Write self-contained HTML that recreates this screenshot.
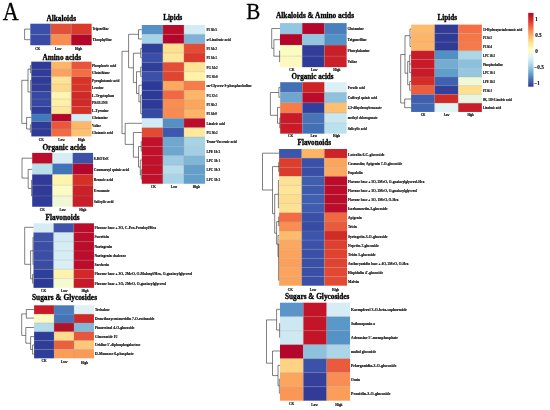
<!DOCTYPE html>
<html lang="en"><head><meta charset="utf-8"><title>Metabolite heatmaps</title>
<style>html,body{margin:0;padding:0;background:#fff}body{width:550px;height:410px;overflow:hidden}svg{display:block}</style>
</head><body>
<svg width="550" height="410" viewBox="0 0 550 410" font-family='&quot;Liberation Serif&quot;, &quot;DejaVu Serif&quot;, serif'>
<rect width="550" height="410" fill="#fff"/>
<defs><linearGradient id="cb" x1="0" y1="0" x2="0" y2="1">
<stop offset="0.0%" stop-color="#b4062a"/>
<stop offset="10.0%" stop-color="#d73027"/>
<stop offset="20.0%" stop-color="#f46d43"/>
<stop offset="30.0%" stop-color="#fdae61"/>
<stop offset="40.0%" stop-color="#fee090"/>
<stop offset="50.0%" stop-color="#ffffbf"/>
<stop offset="60.0%" stop-color="#e0f3f8"/>
<stop offset="70.0%" stop-color="#abd9e9"/>
<stop offset="80.0%" stop-color="#74add1"/>
<stop offset="90.0%" stop-color="#4575b4"/>
<stop offset="100.0%" stop-color="#313695"/>
</linearGradient></defs>
<text transform="translate(2.7 19.8) scale(0.9 1)" font-size="24.5" stroke="#000" stroke-width="0.3">A</text>
<text transform="translate(246.3 19.3) scale(0.92 1)" font-size="22.9" stroke="#000" stroke-width="0.3">B</text>
<g id="A_alk">
<text x="61.20" y="20.60" font-size="7.3" font-weight="bold" stroke="#000" stroke-width="0.3" text-anchor="middle" textLength="29.6" lengthAdjust="spacingAndGlyphs">Alkaloids</text>
<rect x="30.30" y="23.70" width="20.48" height="10.80" fill="#3a4fa8"/>
<rect x="50.73" y="23.70" width="20.48" height="10.80" fill="#e0513a"/>
<rect x="71.17" y="23.70" width="20.48" height="10.80" fill="#d93a2b"/>
<rect x="30.30" y="34.45" width="20.48" height="10.80" fill="#394ba5"/>
<rect x="50.73" y="34.45" width="20.48" height="10.80" fill="#f88d52"/>
<rect x="71.17" y="34.45" width="20.48" height="10.80" fill="#b4062a"/>
<path d="M30.30 34.45H91.60M50.73 23.70V45.20M71.17 23.70V45.20" stroke="#9a9a9a" stroke-width="0.35" fill="none" opacity="0.75"/>
<path d="M30.3 29.1H24.6V39.7H30.3" stroke="#2a2a2a" stroke-width="0.6" fill="none"/>
<text x="92.50" y="30.01" font-size="3.45" font-weight="bold" stroke="#000" stroke-width="0.12" textLength="16.1" lengthAdjust="spacingAndGlyphs">Trigonelline</text>
<text x="92.50" y="40.76" font-size="3.45" font-weight="bold" stroke="#000" stroke-width="0.12" textLength="19.4" lengthAdjust="spacingAndGlyphs">Theophylline</text>
<text x="37.72" y="50.10" font-size="3.40" font-weight="bold" stroke="#000" stroke-width="0.12" text-anchor="middle">CK</text>
<text x="58.15" y="50.10" font-size="3.40" font-weight="bold" stroke="#000" stroke-width="0.12" text-anchor="middle">Low</text>
<text x="78.58" y="50.10" font-size="3.40" font-weight="bold" stroke="#000" stroke-width="0.12" text-anchor="middle">High</text>
</g>
<g id="A_amino">
<text x="61.80" y="60.00" font-size="7.3" font-weight="bold" stroke="#000" stroke-width="0.3" text-anchor="middle" textLength="38.4" lengthAdjust="spacingAndGlyphs">Amino acids</text>
<rect x="31.30" y="61.65" width="20.12" height="7.52" fill="#2f3b96"/>
<rect x="51.37" y="61.65" width="20.12" height="7.52" fill="#fdb56a"/>
<rect x="71.43" y="61.65" width="20.12" height="7.52" fill="#e8553a"/>
<rect x="31.30" y="69.12" width="20.12" height="7.52" fill="#303c97"/>
<rect x="51.37" y="69.12" width="20.12" height="7.52" fill="#fba35e"/>
<rect x="71.43" y="69.12" width="20.12" height="7.52" fill="#f46d43"/>
<rect x="31.30" y="76.60" width="20.12" height="7.52" fill="#2f3b96"/>
<rect x="51.37" y="76.60" width="20.12" height="7.52" fill="#fee496"/>
<rect x="71.43" y="76.60" width="20.12" height="7.52" fill="#d93227"/>
<rect x="31.30" y="84.07" width="20.12" height="7.52" fill="#303c97"/>
<rect x="51.37" y="84.07" width="20.12" height="7.52" fill="#fed98a"/>
<rect x="71.43" y="84.07" width="20.12" height="7.52" fill="#d93227"/>
<rect x="31.30" y="91.55" width="20.12" height="7.52" fill="#3648a2"/>
<rect x="51.37" y="91.55" width="20.12" height="7.52" fill="#fef5b0"/>
<rect x="71.43" y="91.55" width="20.12" height="7.52" fill="#cf2a27"/>
<rect x="31.30" y="99.03" width="20.12" height="7.52" fill="#3648a2"/>
<rect x="51.37" y="99.03" width="20.12" height="7.52" fill="#fff0a8"/>
<rect x="71.43" y="99.03" width="20.12" height="7.52" fill="#cf2a27"/>
<rect x="31.30" y="106.50" width="20.12" height="7.52" fill="#303e99"/>
<rect x="51.37" y="106.50" width="20.12" height="7.52" fill="#fee79b"/>
<rect x="71.43" y="106.50" width="20.12" height="7.52" fill="#d43027"/>
<rect x="31.30" y="113.97" width="20.12" height="7.52" fill="#3f7bbd"/>
<rect x="51.37" y="113.97" width="20.12" height="7.52" fill="#b4062a"/>
<rect x="71.43" y="113.97" width="20.12" height="7.52" fill="#d4ecf4"/>
<rect x="31.30" y="121.45" width="20.12" height="7.52" fill="#2f3b96"/>
<rect x="51.37" y="121.45" width="20.12" height="7.52" fill="#e9573b"/>
<rect x="71.43" y="121.45" width="20.12" height="7.52" fill="#fdb768"/>
<rect x="31.30" y="128.92" width="20.12" height="7.52" fill="#2f3b96"/>
<rect x="51.37" y="128.92" width="20.12" height="7.52" fill="#f16a43"/>
<rect x="71.43" y="128.92" width="20.12" height="7.52" fill="#fdc174"/>
<path d="M31.30 69.12H91.50M31.30 76.60H91.50M31.30 84.07H91.50M31.30 91.55H91.50M31.30 99.03H91.50M31.30 106.50H91.50M31.30 113.97H91.50M31.30 121.45H91.50M31.30 128.92H91.50M51.37 61.65V136.40M71.43 61.65V136.40" stroke="#9a9a9a" stroke-width="0.35" fill="none" opacity="0.75"/>
<path d="M31.3 65.4H30.4V72.8H31.3M30.4 69.1H28V92H30.6M31.3 80.2H30.6V110H31.3M28 80.3H21.8V123.4H26.6M31.3 117.4H26.6V129H30.4M31.3 124.8H30.4V132.2H31.3" stroke="#2a2a2a" stroke-width="0.6" fill="none"/>
<text x="92.10" y="66.73" font-size="3.45" font-weight="bold" stroke="#000" stroke-width="0.12" textLength="24.2" lengthAdjust="spacingAndGlyphs">Phosphoric acid</text>
<text x="92.10" y="74.20" font-size="3.45" font-weight="bold" stroke="#000" stroke-width="0.12" textLength="17.6" lengthAdjust="spacingAndGlyphs">Glutathione</text>
<text x="92.10" y="81.68" font-size="3.45" font-weight="bold" stroke="#000" stroke-width="0.12" textLength="27.4" lengthAdjust="spacingAndGlyphs">Pyroglutamic acid</text>
<text x="92.10" y="89.15" font-size="3.45" font-weight="bold" stroke="#000" stroke-width="0.12" textLength="11.5" lengthAdjust="spacingAndGlyphs">Leucine</text>
<text x="92.10" y="96.63" font-size="3.45" font-weight="bold" stroke="#000" stroke-width="0.12" textLength="21.9" lengthAdjust="spacingAndGlyphs">L-Tryptophan</text>
<text x="92.10" y="104.10" font-size="3.45" font-weight="bold" stroke="#000" stroke-width="0.12" textLength="15.6" lengthAdjust="spacingAndGlyphs">PROLINE</text>
<text x="92.10" y="111.58" font-size="3.45" font-weight="bold" stroke="#000" stroke-width="0.12" textLength="16.5" lengthAdjust="spacingAndGlyphs">L-Tyrosine</text>
<text x="92.10" y="119.05" font-size="3.45" font-weight="bold" stroke="#000" stroke-width="0.12" textLength="15.7" lengthAdjust="spacingAndGlyphs">Glutamine</text>
<text x="92.10" y="126.53" font-size="3.45" font-weight="bold" stroke="#000" stroke-width="0.12" textLength="8.8" lengthAdjust="spacingAndGlyphs">Valine</text>
<text x="92.10" y="134.00" font-size="3.45" font-weight="bold" stroke="#000" stroke-width="0.12" textLength="20.9" lengthAdjust="spacingAndGlyphs">Glutamic acid</text>
<text x="41.33" y="140.50" font-size="3.40" font-weight="bold" stroke="#000" stroke-width="0.12" text-anchor="middle">CK</text>
<text x="61.40" y="140.50" font-size="3.40" font-weight="bold" stroke="#000" stroke-width="0.12" text-anchor="middle">Low</text>
<text x="81.47" y="140.50" font-size="3.40" font-weight="bold" stroke="#000" stroke-width="0.12" text-anchor="middle">High</text>
</g>
<g id="A_org">
<text x="64.20" y="149.80" font-size="7.3" font-weight="bold" stroke="#000" stroke-width="0.3" text-anchor="middle" textLength="43.6" lengthAdjust="spacingAndGlyphs">Organic acids</text>
<rect x="32.20" y="152.90" width="20.32" height="10.81" fill="#bc0c2b"/>
<rect x="52.47" y="152.90" width="20.32" height="10.81" fill="#d6edf5"/>
<rect x="72.73" y="152.90" width="20.32" height="10.81" fill="#3e51a8"/>
<rect x="32.20" y="163.66" width="20.32" height="10.81" fill="#b9dfec"/>
<rect x="52.47" y="163.66" width="20.32" height="10.81" fill="#3f74ba"/>
<rect x="72.73" y="163.66" width="20.32" height="10.81" fill="#b4062a"/>
<rect x="32.20" y="174.42" width="20.32" height="10.81" fill="#2f3b96"/>
<rect x="52.47" y="174.42" width="20.32" height="10.81" fill="#fef4ae"/>
<rect x="72.73" y="174.42" width="20.32" height="10.81" fill="#d62f27"/>
<rect x="32.20" y="185.18" width="20.32" height="10.81" fill="#2f3b96"/>
<rect x="52.47" y="185.18" width="20.32" height="10.81" fill="#fbfbc5"/>
<rect x="72.73" y="185.18" width="20.32" height="10.81" fill="#c92029"/>
<rect x="32.20" y="195.94" width="20.32" height="10.81" fill="#2f3b96"/>
<rect x="52.47" y="195.94" width="20.32" height="10.81" fill="#f0f7d5"/>
<rect x="72.73" y="195.94" width="20.32" height="10.81" fill="#c81e29"/>
<path d="M32.20 163.66H93.00M32.20 174.42H93.00M32.20 185.18H93.00M32.20 195.94H93.00M52.47 152.90V206.70M72.73 152.90V206.70" stroke="#9a9a9a" stroke-width="0.35" fill="none" opacity="0.75"/>
<path d="M32.2 158.2H22V178.1H28.2M32.2 169.4H28.2V188.4H31.6M32.2 180H31.6V196H32.2" stroke="#2a2a2a" stroke-width="0.6" fill="none"/>
<text x="93.80" y="159.92" font-size="3.45" font-weight="bold" stroke="#000" stroke-width="0.12" textLength="14.8" lengthAdjust="spacingAndGlyphs">9-HOTrE</text>
<text x="93.80" y="170.68" font-size="3.45" font-weight="bold" stroke="#000" stroke-width="0.12" textLength="35.1" lengthAdjust="spacingAndGlyphs">Coumaroyl quinic acid</text>
<text x="93.80" y="181.44" font-size="3.45" font-weight="bold" stroke="#000" stroke-width="0.12" textLength="19.2" lengthAdjust="spacingAndGlyphs">Benzoic acid</text>
<text x="93.80" y="192.20" font-size="3.45" font-weight="bold" stroke="#000" stroke-width="0.12" textLength="15.9" lengthAdjust="spacingAndGlyphs">Urocanate</text>
<text x="93.80" y="202.96" font-size="3.45" font-weight="bold" stroke="#000" stroke-width="0.12" textLength="19.8" lengthAdjust="spacingAndGlyphs">Salicylic acid</text>
<text x="42.33" y="210.90" font-size="3.40" font-weight="bold" stroke="#000" stroke-width="0.12" text-anchor="middle">CK</text>
<text x="62.60" y="210.90" font-size="3.40" font-weight="bold" stroke="#000" stroke-width="0.12" text-anchor="middle">Low</text>
<text x="82.87" y="210.90" font-size="3.40" font-weight="bold" stroke="#000" stroke-width="0.12" text-anchor="middle">High</text>
</g>
<g id="A_flav">
<text x="62.60" y="220.00" font-size="7.3" font-weight="bold" stroke="#000" stroke-width="0.3" text-anchor="middle" textLength="34.0" lengthAdjust="spacingAndGlyphs">Flavonoids</text>
<rect x="33.50" y="223.30" width="20.18" height="9.26" fill="#d5ecf4"/>
<rect x="53.63" y="223.30" width="20.18" height="9.26" fill="#3e54aa"/>
<rect x="73.77" y="223.30" width="20.18" height="9.26" fill="#bc0c2b"/>
<rect x="33.50" y="232.51" width="20.18" height="9.26" fill="#3d52a9"/>
<rect x="53.63" y="232.51" width="20.18" height="9.26" fill="#d2eaf3"/>
<rect x="73.77" y="232.51" width="20.18" height="9.26" fill="#bc0c2b"/>
<rect x="33.50" y="241.72" width="20.18" height="9.26" fill="#3a4ea6"/>
<rect x="53.63" y="241.72" width="20.18" height="9.26" fill="#d6edf5"/>
<rect x="73.77" y="241.72" width="20.18" height="9.26" fill="#bc0c2b"/>
<rect x="33.50" y="250.93" width="20.18" height="9.26" fill="#3a4ea6"/>
<rect x="53.63" y="250.93" width="20.18" height="9.26" fill="#d6edf5"/>
<rect x="73.77" y="250.93" width="20.18" height="9.26" fill="#bc0c2b"/>
<rect x="33.50" y="260.14" width="20.18" height="9.26" fill="#394ca4"/>
<rect x="53.63" y="260.14" width="20.18" height="9.26" fill="#d9eef5"/>
<rect x="73.77" y="260.14" width="20.18" height="9.26" fill="#bc0c2b"/>
<rect x="33.50" y="269.35" width="20.18" height="9.26" fill="#2e3f9a"/>
<rect x="53.63" y="269.35" width="20.18" height="9.26" fill="#fef3ad"/>
<rect x="73.77" y="269.35" width="20.18" height="9.26" fill="#d4272a"/>
<rect x="33.50" y="278.56" width="20.18" height="9.26" fill="#2c3a96"/>
<rect x="53.63" y="278.56" width="20.18" height="9.26" fill="#f5fad0"/>
<rect x="73.77" y="278.56" width="20.18" height="9.26" fill="#c41a2a"/>
<path d="M33.50 232.51H93.90M33.50 241.72H93.90M33.50 250.93H93.90M33.50 260.14H93.90M33.50 269.35H93.90M33.50 278.56H93.90M53.63 223.30V287.77M73.77 223.30V287.77" stroke="#9a9a9a" stroke-width="0.35" fill="none" opacity="0.75"/>
<path d="M33.5 227.3H24.7V264.3H30.6M33.5 250.75H30.6V278.8H32.6M33.5 274.4H32.6V283.2H33.5M33.5 237H33V264.7H33.5" stroke="#2a2a2a" stroke-width="0.6" fill="none"/>
<text x="94.50" y="229.24" font-size="3.45" font-weight="bold" stroke="#000" stroke-width="0.12" textLength="61.5" lengthAdjust="spacingAndGlyphs">Flavone base + 3O, C-Pen-Feruloyl/Hex</text>
<text x="94.50" y="238.45" font-size="3.45" font-weight="bold" stroke="#000" stroke-width="0.12" textLength="14.5" lengthAdjust="spacingAndGlyphs">Swertisin</text>
<text x="94.50" y="247.66" font-size="3.45" font-weight="bold" stroke="#000" stroke-width="0.12" textLength="17.5" lengthAdjust="spacingAndGlyphs">Naringenin</text>
<text x="94.50" y="256.87" font-size="3.45" font-weight="bold" stroke="#000" stroke-width="0.12" textLength="31.5" lengthAdjust="spacingAndGlyphs">Naringenin chalcone</text>
<text x="94.50" y="266.08" font-size="3.45" font-weight="bold" stroke="#000" stroke-width="0.12" textLength="14.5" lengthAdjust="spacingAndGlyphs">Sarchesin</text>
<text x="94.50" y="275.29" font-size="3.45" font-weight="bold" stroke="#000" stroke-width="0.12" textLength="97.5" lengthAdjust="spacingAndGlyphs">Flavone base + 3O, 2MeO, O-Malonyl/Hex, O-guaiacylglycerol</text>
<text x="94.50" y="284.50" font-size="3.45" font-weight="bold" stroke="#000" stroke-width="0.12" textLength="71.5" lengthAdjust="spacingAndGlyphs">Flavone base + 3O, 2MeO, O-guaiacylglycerol</text>
<text x="43.57" y="291.90" font-size="3.40" font-weight="bold" stroke="#000" stroke-width="0.12" text-anchor="middle">CK</text>
<text x="64.30" y="291.90" font-size="3.40" font-weight="bold" stroke="#000" stroke-width="0.12" text-anchor="middle">Low</text>
<text x="85.03" y="291.90" font-size="3.40" font-weight="bold" stroke="#000" stroke-width="0.12" text-anchor="middle">High</text>
</g>
<g id="A_sug">
<text x="64.50" y="300.20" font-size="7.3" font-weight="bold" stroke="#000" stroke-width="0.3" text-anchor="middle" textLength="65.0" lengthAdjust="spacingAndGlyphs">Sugars &amp; Glycosides</text>
<rect x="34.10" y="305.30" width="19.98" height="8.88" fill="#c81a29"/>
<rect x="54.03" y="305.30" width="19.98" height="8.88" fill="#4a7bbb"/>
<rect x="73.97" y="305.30" width="19.98" height="8.88" fill="#dff1f6"/>
<rect x="34.10" y="314.13" width="19.98" height="8.88" fill="#fcf8c0"/>
<rect x="54.03" y="314.13" width="19.98" height="8.88" fill="#4573b7"/>
<rect x="73.97" y="314.13" width="19.98" height="8.88" fill="#d0292a"/>
<rect x="34.10" y="322.96" width="19.98" height="8.88" fill="#b4dbeb"/>
<rect x="54.03" y="322.96" width="19.98" height="8.88" fill="#b2132a"/>
<rect x="73.97" y="322.96" width="19.98" height="8.88" fill="#83b7d8"/>
<rect x="34.10" y="331.79" width="19.98" height="8.88" fill="#2e3d98"/>
<rect x="54.03" y="331.79" width="19.98" height="8.88" fill="#fedc8c"/>
<rect x="73.97" y="331.79" width="19.98" height="8.88" fill="#e8573b"/>
<rect x="34.10" y="340.62" width="19.98" height="8.88" fill="#2e3d98"/>
<rect x="54.03" y="340.62" width="19.98" height="8.88" fill="#ec5f3f"/>
<rect x="73.97" y="340.62" width="19.98" height="8.88" fill="#fdc778"/>
<rect x="34.10" y="349.45" width="19.98" height="8.88" fill="#2e3d98"/>
<rect x="54.03" y="349.45" width="19.98" height="8.88" fill="#fb9d59"/>
<rect x="73.97" y="349.45" width="19.98" height="8.88" fill="#fa9a58"/>
<path d="M34.10 314.13H93.90M34.10 322.96H93.90M34.10 331.79H93.90M34.10 340.62H93.90M34.10 349.45H93.90M54.03 305.30V358.28M73.97 305.30V358.28" stroke="#9a9a9a" stroke-width="0.35" fill="none" opacity="0.75"/>
<path d="M34.1 309.5H26.3V318.1H34.1M26.3 313.9H21.7V335.4H25.8M34.1 327.5H25.8V343.2H30.6M34.1 336.6H30.6V349.5H32.6M34.1 345H32.6V354.1H34.1" stroke="#2a2a2a" stroke-width="0.6" fill="none"/>
<text x="95.00" y="311.05" font-size="3.45" font-weight="bold" stroke="#000" stroke-width="0.12" textLength="14.6" lengthAdjust="spacingAndGlyphs">Trehalose</text>
<text x="95.00" y="319.88" font-size="3.45" font-weight="bold" stroke="#000" stroke-width="0.12" textLength="59.4" lengthAdjust="spacingAndGlyphs">Demethoxycentaureidin 7-O-rutinoside</text>
<text x="95.00" y="328.71" font-size="3.45" font-weight="bold" stroke="#000" stroke-width="0.12" textLength="39.4" lengthAdjust="spacingAndGlyphs">Pinoresinol 4-O-glucoside</text>
<text x="95.00" y="337.54" font-size="3.45" font-weight="bold" stroke="#000" stroke-width="0.12" textLength="22.6" lengthAdjust="spacingAndGlyphs">Ginsenoside F2</text>
<text x="95.00" y="346.37" font-size="3.45" font-weight="bold" stroke="#000" stroke-width="0.12" textLength="45.4" lengthAdjust="spacingAndGlyphs">Uridine 5'-diphosphogalactose</text>
<text x="95.00" y="355.20" font-size="3.45" font-weight="bold" stroke="#000" stroke-width="0.12" textLength="38.6" lengthAdjust="spacingAndGlyphs">D-Mannose 6-phosphate</text>
<text x="44.07" y="362.20" font-size="3.40" font-weight="bold" stroke="#000" stroke-width="0.12" text-anchor="middle">CK</text>
<text x="64.30" y="362.90" font-size="3.40" font-weight="bold" stroke="#000" stroke-width="0.12" text-anchor="middle">Low</text>
<text x="84.53" y="363.60" font-size="3.40" font-weight="bold" stroke="#000" stroke-width="0.12" text-anchor="middle">High</text>
</g>
<g id="A_lip">
<text x="172.80" y="20.00" font-size="7.3" font-weight="bold" stroke="#000" stroke-width="0.3" text-anchor="middle" textLength="19.1" lengthAdjust="spacingAndGlyphs">Lipids</text>
<rect x="141.80" y="25.00" width="21.12" height="9.39" fill="#5591c6"/>
<rect x="162.87" y="25.00" width="21.12" height="9.39" fill="#bc0c2b"/>
<rect x="183.93" y="25.00" width="21.12" height="9.39" fill="#d3ebf4"/>
<rect x="141.80" y="34.34" width="21.12" height="9.39" fill="#a6d3e7"/>
<rect x="162.87" y="34.34" width="21.12" height="9.39" fill="#b4062a"/>
<rect x="183.93" y="34.34" width="21.12" height="9.39" fill="#7fb3d6"/>
<rect x="141.80" y="43.67" width="21.12" height="9.39" fill="#30409a"/>
<rect x="162.87" y="43.67" width="21.12" height="9.39" fill="#fee090"/>
<rect x="183.93" y="43.67" width="21.12" height="9.39" fill="#e34c35"/>
<rect x="141.80" y="53.01" width="21.12" height="9.39" fill="#3a4ea6"/>
<rect x="162.87" y="53.01" width="21.12" height="9.39" fill="#fee79b"/>
<rect x="183.93" y="53.01" width="21.12" height="9.39" fill="#dc3b2c"/>
<rect x="141.80" y="62.34" width="21.12" height="9.39" fill="#2f3f99"/>
<rect x="162.87" y="62.34" width="21.12" height="9.39" fill="#e44e36"/>
<rect x="183.93" y="62.34" width="21.12" height="9.39" fill="#fee395"/>
<rect x="141.80" y="71.68" width="21.12" height="9.39" fill="#3b50a7"/>
<rect x="162.87" y="71.68" width="21.12" height="9.39" fill="#e04530"/>
<rect x="183.93" y="71.68" width="21.12" height="9.39" fill="#fff2ab"/>
<rect x="141.80" y="81.01" width="21.12" height="9.39" fill="#2d3a97"/>
<rect x="162.87" y="81.01" width="21.12" height="9.39" fill="#fca85f"/>
<rect x="183.93" y="81.01" width="21.12" height="9.39" fill="#f67d4a"/>
<rect x="141.80" y="90.34" width="21.12" height="9.39" fill="#2d3a97"/>
<rect x="162.87" y="90.34" width="21.12" height="9.39" fill="#f26941"/>
<rect x="183.93" y="90.34" width="21.12" height="9.39" fill="#fdb567"/>
<rect x="141.80" y="99.68" width="21.12" height="9.39" fill="#2d3a97"/>
<rect x="162.87" y="99.68" width="21.12" height="9.39" fill="#f98e52"/>
<rect x="183.93" y="99.68" width="21.12" height="9.39" fill="#fca55d"/>
<rect x="141.80" y="109.02" width="21.12" height="9.39" fill="#354aa3"/>
<rect x="162.87" y="109.02" width="21.12" height="9.39" fill="#f88b51"/>
<rect x="183.93" y="109.02" width="21.12" height="9.39" fill="#fdb466"/>
<rect x="141.80" y="118.35" width="21.12" height="9.39" fill="#d3ebf4"/>
<rect x="162.87" y="118.35" width="21.12" height="9.39" fill="#5490c5"/>
<rect x="183.93" y="118.35" width="21.12" height="9.39" fill="#bc0c2b"/>
<rect x="141.80" y="127.69" width="21.12" height="9.39" fill="#e24a34"/>
<rect x="162.87" y="127.69" width="21.12" height="9.39" fill="#3d58ac"/>
<rect x="183.93" y="127.69" width="21.12" height="9.39" fill="#fee99d"/>
<rect x="141.80" y="137.02" width="21.12" height="9.39" fill="#c0102a"/>
<rect x="162.87" y="137.02" width="21.12" height="9.39" fill="#6fa8cf"/>
<rect x="183.93" y="137.02" width="21.12" height="9.39" fill="#a8d3e7"/>
<rect x="141.80" y="146.36" width="21.12" height="9.39" fill="#c0102a"/>
<rect x="162.87" y="146.36" width="21.12" height="9.39" fill="#6da7cf"/>
<rect x="183.93" y="146.36" width="21.12" height="9.39" fill="#a3cfe5"/>
<rect x="141.80" y="155.69" width="21.12" height="9.39" fill="#c0102a"/>
<rect x="162.87" y="155.69" width="21.12" height="9.39" fill="#9dcae2"/>
<rect x="183.93" y="155.69" width="21.12" height="9.39" fill="#82b6d7"/>
<rect x="141.80" y="165.03" width="21.12" height="9.39" fill="#c0102a"/>
<rect x="162.87" y="165.03" width="21.12" height="9.39" fill="#b7dcea"/>
<rect x="183.93" y="165.03" width="21.12" height="9.39" fill="#649fca"/>
<rect x="141.80" y="174.36" width="21.12" height="9.39" fill="#c0102a"/>
<rect x="162.87" y="174.36" width="21.12" height="9.39" fill="#a9d4e7"/>
<rect x="183.93" y="174.36" width="21.12" height="9.39" fill="#62a0cb"/>
<path d="M141.80 34.34H205.00M141.80 43.67H205.00M141.80 53.01H205.00M141.80 62.34H205.00M141.80 71.68H205.00M141.80 81.01H205.00M141.80 90.34H205.00M141.80 99.68H205.00M141.80 109.02H205.00M141.80 118.35H205.00M141.80 127.69H205.00M141.80 137.02H205.00M141.80 146.36H205.00M141.80 155.69H205.00M141.80 165.03H205.00M141.80 174.36H205.00M162.87 25.00V183.70M183.93 25.00V183.70" stroke="#9a9a9a" stroke-width="0.35" fill="none" opacity="0.75"/>
<path d="M141.8 29.7H138.5V39H141.8M138.5 34.3H128.6V67.8H133.4M128.6 51.3H122V133.6H125.2M141.8 48.4H140.7V57.7H141.8M140.7 53.2H133.4V82.6H136.5M141.8 67H140.7V76.4H141.8M140.7 71.7H136.5V93.5H138.9M141.8 85.2H138.9V101.9H140.7M141.8 95H140.7V113.7H141.8M141.8 123.3H125.2V144.4H133.4M141.8 132.5H133.4V157.2H138.5M141.3 146.6H138.5V167.1H140.3M141.8 141.7H141.2V151.1H141.8M141.8 160H140.3V174.8H141.2M141.8 169.8H141.2V179.1H141.8" stroke="#2a2a2a" stroke-width="0.6" fill="none"/>
<text x="206.40" y="31.46" font-size="3.30" font-weight="bold" stroke="#000" stroke-width="0.12" textLength="10.5" lengthAdjust="spacingAndGlyphs">PI 36:5</text>
<text x="206.40" y="40.79" font-size="3.30" font-weight="bold" stroke="#000" stroke-width="0.12" textLength="24.4" lengthAdjust="spacingAndGlyphs">α-Linolenic acid</text>
<text x="206.40" y="50.13" font-size="3.30" font-weight="bold" stroke="#000" stroke-width="0.12" textLength="10.5" lengthAdjust="spacingAndGlyphs">PI 34:2</text>
<text x="206.40" y="59.46" font-size="3.30" font-weight="bold" stroke="#000" stroke-width="0.12" textLength="10.5" lengthAdjust="spacingAndGlyphs">PI 34:1</text>
<text x="206.40" y="68.80" font-size="3.30" font-weight="bold" stroke="#000" stroke-width="0.12" textLength="11.3" lengthAdjust="spacingAndGlyphs">PG 34:2</text>
<text x="206.40" y="78.13" font-size="3.30" font-weight="bold" stroke="#000" stroke-width="0.12" textLength="11.3" lengthAdjust="spacingAndGlyphs">PG 38:0</text>
<text x="206.40" y="87.47" font-size="3.30" font-weight="bold" stroke="#000" stroke-width="0.12" textLength="45.3" lengthAdjust="spacingAndGlyphs">sn-Glycero-3-phosphocholine</text>
<text x="206.40" y="96.80" font-size="3.30" font-weight="bold" stroke="#000" stroke-width="0.12" textLength="11.3" lengthAdjust="spacingAndGlyphs">PG 32:1</text>
<text x="206.40" y="106.14" font-size="3.30" font-weight="bold" stroke="#000" stroke-width="0.12" textLength="10.5" lengthAdjust="spacingAndGlyphs">PI 36:2</text>
<text x="206.40" y="115.47" font-size="3.30" font-weight="bold" stroke="#000" stroke-width="0.12" textLength="10.5" lengthAdjust="spacingAndGlyphs">PI 34:0</text>
<text x="206.40" y="124.81" font-size="3.30" font-weight="bold" stroke="#000" stroke-width="0.12" textLength="18.6" lengthAdjust="spacingAndGlyphs">Linoleic acid</text>
<text x="206.40" y="134.14" font-size="3.30" font-weight="bold" stroke="#000" stroke-width="0.12" textLength="11.3" lengthAdjust="spacingAndGlyphs">PG 36:2</text>
<text x="206.40" y="143.48" font-size="3.30" font-weight="bold" stroke="#000" stroke-width="0.12" textLength="30.3" lengthAdjust="spacingAndGlyphs">Trans-Vaccenic acid</text>
<text x="206.40" y="152.81" font-size="3.30" font-weight="bold" stroke="#000" stroke-width="0.12" textLength="13.7" lengthAdjust="spacingAndGlyphs">LPE 18:2</text>
<text x="206.40" y="162.15" font-size="3.30" font-weight="bold" stroke="#000" stroke-width="0.12" textLength="13.7" lengthAdjust="spacingAndGlyphs">LPC 18:1</text>
<text x="206.40" y="171.48" font-size="3.30" font-weight="bold" stroke="#000" stroke-width="0.12" textLength="13.7" lengthAdjust="spacingAndGlyphs">LPC 18:3</text>
<text x="206.40" y="180.82" font-size="3.30" font-weight="bold" stroke="#000" stroke-width="0.12" textLength="13.7" lengthAdjust="spacingAndGlyphs">LPC 18:2</text>
<text x="153.43" y="187.70" font-size="3.40" font-weight="bold" stroke="#000" stroke-width="0.12" text-anchor="middle">CK</text>
<text x="174.00" y="187.70" font-size="3.40" font-weight="bold" stroke="#000" stroke-width="0.12" text-anchor="middle">Low</text>
<text x="196.27" y="187.70" font-size="3.40" font-weight="bold" stroke="#000" stroke-width="0.12" text-anchor="middle">High</text>
</g>
<g id="B_alk">
<text x="315.00" y="18.00" font-size="7.3" font-weight="bold" stroke="#000" stroke-width="0.3" text-anchor="middle" textLength="78.0" lengthAdjust="spacingAndGlyphs">Alkaloids &amp; Amino acids</text>
<rect x="280.00" y="23.10" width="22.25" height="11.05" fill="#93c6e0"/>
<rect x="302.20" y="23.10" width="22.25" height="11.05" fill="#b4062a"/>
<rect x="324.40" y="23.10" width="22.25" height="11.05" fill="#4a7fbc"/>
<rect x="280.00" y="34.10" width="22.25" height="11.05" fill="#b4062a"/>
<rect x="302.20" y="34.10" width="22.25" height="11.05" fill="#94c5df"/>
<rect x="324.40" y="34.10" width="22.25" height="11.05" fill="#5291c5"/>
<rect x="280.00" y="45.10" width="22.25" height="11.05" fill="#fbfcc2"/>
<rect x="302.20" y="45.10" width="22.25" height="11.05" fill="#313d99"/>
<rect x="324.40" y="45.10" width="22.25" height="11.05" fill="#c91f29"/>
<rect x="280.00" y="56.10" width="22.25" height="11.05" fill="#fcf9c0"/>
<rect x="302.20" y="56.10" width="22.25" height="11.05" fill="#2f3c97"/>
<rect x="324.40" y="56.10" width="22.25" height="11.05" fill="#cb2029"/>
<path d="M280.00 34.10H346.60M280.00 45.10H346.60M280.00 56.10H346.60M302.20 23.10V67.10M324.40 23.10V67.10" stroke="#9a9a9a" stroke-width="0.35" fill="none" opacity="0.75"/>
<path d="M280 28.55H271.7V48.3H273.9M280 39.7H273.9V56.2H279.6M280 50.85H279.6V61.95H280" stroke="#2a2a2a" stroke-width="0.6" fill="none"/>
<text x="347.50" y="29.79" font-size="3.60" font-weight="bold" stroke="#000" stroke-width="0.12" textLength="16.4" lengthAdjust="spacingAndGlyphs">Glutamine</text>
<text x="347.50" y="40.79" font-size="3.60" font-weight="bold" stroke="#000" stroke-width="0.12" textLength="19.1" lengthAdjust="spacingAndGlyphs">Trigonelline</text>
<text x="347.50" y="51.79" font-size="3.60" font-weight="bold" stroke="#000" stroke-width="0.12" textLength="22.1" lengthAdjust="spacingAndGlyphs">Phenylalanine</text>
<text x="347.50" y="62.79" font-size="3.60" font-weight="bold" stroke="#000" stroke-width="0.12" textLength="9.5" lengthAdjust="spacingAndGlyphs">Valine</text>
<text x="291.90" y="70.70" font-size="3.40" font-weight="bold" stroke="#000" stroke-width="0.12" text-anchor="middle">CK</text>
<text x="314.20" y="70.70" font-size="3.40" font-weight="bold" stroke="#000" stroke-width="0.12" text-anchor="middle">Low</text>
<text x="336.90" y="70.70" font-size="3.40" font-weight="bold" stroke="#000" stroke-width="0.12" text-anchor="middle">High</text>
</g>
<g id="B_org">
<text x="312.60" y="79.20" font-size="7.3" font-weight="bold" stroke="#000" stroke-width="0.3" text-anchor="middle" textLength="42.0" lengthAdjust="spacingAndGlyphs">Organic acids</text>
<rect x="280.20" y="82.20" width="22.18" height="10.33" fill="#4471b6"/>
<rect x="302.33" y="82.20" width="22.18" height="10.33" fill="#cc2427"/>
<rect x="324.47" y="82.20" width="22.18" height="10.33" fill="#dbeff6"/>
<rect x="280.20" y="92.48" width="22.18" height="10.33" fill="#6ea6cf"/>
<rect x="302.33" y="92.48" width="22.18" height="10.33" fill="#bc0c2b"/>
<rect x="324.47" y="92.48" width="22.18" height="10.33" fill="#8fc1dd"/>
<rect x="280.20" y="102.76" width="22.18" height="10.33" fill="#f67c4a"/>
<rect x="302.33" y="102.76" width="22.18" height="10.33" fill="#323f9b"/>
<rect x="324.47" y="102.76" width="22.18" height="10.33" fill="#fdc071"/>
<rect x="280.20" y="113.04" width="22.18" height="10.33" fill="#c81a29"/>
<rect x="302.33" y="113.04" width="22.18" height="10.33" fill="#4674b7"/>
<rect x="324.47" y="113.04" width="22.18" height="10.33" fill="#c8e7f1"/>
<rect x="280.20" y="123.32" width="22.18" height="10.33" fill="#c81a29"/>
<rect x="302.33" y="123.32" width="22.18" height="10.33" fill="#4370b5"/>
<rect x="324.47" y="123.32" width="22.18" height="10.33" fill="#bbe1ed"/>
<path d="M280.20 92.48H346.60M280.20 102.76H346.60M280.20 113.04H346.60M280.20 123.32H346.60M302.33 82.20V133.60M324.47 82.20V133.60" stroke="#9a9a9a" stroke-width="0.35" fill="none" opacity="0.75"/>
<path d="M280.2 87.3H278.9V97.2H280.2M278.9 92.5H270.4V115.3H277.5M280.2 107.4H277.5V123.2H279.8M280.2 117.9H279.8V128.1H280.2" stroke="#2a2a2a" stroke-width="0.6" fill="none"/>
<text x="347.70" y="88.53" font-size="3.60" font-weight="bold" stroke="#000" stroke-width="0.12" textLength="17.3" lengthAdjust="spacingAndGlyphs">Ferulic acid</text>
<text x="347.70" y="98.81" font-size="3.60" font-weight="bold" stroke="#000" stroke-width="0.12" textLength="29.4" lengthAdjust="spacingAndGlyphs">Caffeoyl quinic acid</text>
<text x="347.70" y="109.09" font-size="3.60" font-weight="bold" stroke="#000" stroke-width="0.12" textLength="34.0" lengthAdjust="spacingAndGlyphs">2,3-dihydroxybenzoate</text>
<text x="347.70" y="119.37" font-size="3.60" font-weight="bold" stroke="#000" stroke-width="0.12" textLength="29.9" lengthAdjust="spacingAndGlyphs">methyl chlorogenate</text>
<text x="347.70" y="129.65" font-size="3.60" font-weight="bold" stroke="#000" stroke-width="0.12" textLength="19.3" lengthAdjust="spacingAndGlyphs">Salicylic acid</text>
<text x="290.67" y="136.70" font-size="3.40" font-weight="bold" stroke="#000" stroke-width="0.12" text-anchor="middle">CK</text>
<text x="313.70" y="136.70" font-size="3.40" font-weight="bold" stroke="#000" stroke-width="0.12" text-anchor="middle">Low</text>
<text x="336.63" y="136.70" font-size="3.40" font-weight="bold" stroke="#000" stroke-width="0.12" text-anchor="middle">High</text>
</g>
<g id="B_flav">
<text x="314.30" y="145.20" font-size="7.3" font-weight="bold" stroke="#000" stroke-width="0.3" text-anchor="middle" textLength="33.4" lengthAdjust="spacingAndGlyphs">Flavonoids</text>
<rect x="279.10" y="149.00" width="22.68" height="9.16" fill="#3d56ab"/>
<rect x="301.73" y="149.00" width="22.68" height="9.16" fill="#fdb466"/>
<rect x="324.37" y="149.00" width="22.68" height="9.16" fill="#cb2327"/>
<rect x="279.10" y="158.11" width="22.68" height="9.16" fill="#dd3d2d"/>
<rect x="301.73" y="158.11" width="22.68" height="9.16" fill="#3850a7"/>
<rect x="324.37" y="158.11" width="22.68" height="9.16" fill="#fca55d"/>
<rect x="279.10" y="167.22" width="22.68" height="9.16" fill="#dc3b2c"/>
<rect x="301.73" y="167.22" width="22.68" height="9.16" fill="#3a4ea6"/>
<rect x="324.37" y="167.22" width="22.68" height="9.16" fill="#fca85f"/>
<rect x="279.10" y="176.33" width="22.68" height="9.16" fill="#fee293"/>
<rect x="301.73" y="176.33" width="22.68" height="9.16" fill="#3f5eaf"/>
<rect x="324.37" y="176.33" width="22.68" height="9.16" fill="#bc0c2b"/>
<rect x="279.10" y="185.44" width="22.68" height="9.16" fill="#fee597"/>
<rect x="301.73" y="185.44" width="22.68" height="9.16" fill="#3d5aad"/>
<rect x="324.37" y="185.44" width="22.68" height="9.16" fill="#bc0c2b"/>
<rect x="279.10" y="194.55" width="22.68" height="9.16" fill="#fedd8e"/>
<rect x="301.73" y="194.55" width="22.68" height="9.16" fill="#3f5fb0"/>
<rect x="324.37" y="194.55" width="22.68" height="9.16" fill="#bc0c2b"/>
<rect x="279.10" y="203.66" width="22.68" height="9.16" fill="#fee294"/>
<rect x="301.73" y="203.66" width="22.68" height="9.16" fill="#3f5cae"/>
<rect x="324.37" y="203.66" width="22.68" height="9.16" fill="#bc0c2b"/>
<rect x="279.10" y="212.77" width="22.68" height="9.16" fill="#f26c43"/>
<rect x="301.73" y="212.77" width="22.68" height="9.16" fill="#3a50a7"/>
<rect x="324.37" y="212.77" width="22.68" height="9.16" fill="#f06740"/>
<rect x="279.10" y="221.88" width="22.68" height="9.16" fill="#f98d52"/>
<rect x="301.73" y="221.88" width="22.68" height="9.16" fill="#374ba4"/>
<rect x="324.37" y="221.88" width="22.68" height="9.16" fill="#ea5a3c"/>
<rect x="279.10" y="230.99" width="22.68" height="9.16" fill="#fdbc6d"/>
<rect x="301.73" y="230.99" width="22.68" height="9.16" fill="#3d56ab"/>
<rect x="324.37" y="230.99" width="22.68" height="9.16" fill="#d22c27"/>
<rect x="279.10" y="240.10" width="22.68" height="9.16" fill="#fca95f"/>
<rect x="301.73" y="240.10" width="22.68" height="9.16" fill="#3b52a8"/>
<rect x="324.37" y="240.10" width="22.68" height="9.16" fill="#de3f2e"/>
<rect x="279.10" y="249.21" width="22.68" height="9.16" fill="#fca35c"/>
<rect x="301.73" y="249.21" width="22.68" height="9.16" fill="#3a50a7"/>
<rect x="324.37" y="249.21" width="22.68" height="9.16" fill="#e04230"/>
<rect x="279.10" y="258.32" width="22.68" height="9.16" fill="#fb9f5a"/>
<rect x="301.73" y="258.32" width="22.68" height="9.16" fill="#3a4fa6"/>
<rect x="324.37" y="258.32" width="22.68" height="9.16" fill="#e0432f"/>
<rect x="279.10" y="267.43" width="22.68" height="9.16" fill="#fca35c"/>
<rect x="301.73" y="267.43" width="22.68" height="9.16" fill="#3a4fa6"/>
<rect x="324.37" y="267.43" width="22.68" height="9.16" fill="#e24732"/>
<rect x="279.10" y="276.54" width="22.68" height="9.16" fill="#fba25b"/>
<rect x="301.73" y="276.54" width="22.68" height="9.16" fill="#3a4fa6"/>
<rect x="324.37" y="276.54" width="22.68" height="9.16" fill="#e34a33"/>
<path d="M279.10 158.11H347.00M279.10 167.22H347.00M279.10 176.33H347.00M279.10 185.44H347.00M279.10 194.55H347.00M279.10 203.66H347.00M279.10 212.77H347.00M279.10 221.88H347.00M279.10 230.99H347.00M279.10 240.10H347.00M279.10 249.21H347.00M279.10 258.32H347.00M279.10 267.43H347.00M279.10 276.54H347.00M301.73 149.00V285.65M324.37 149.00V285.65" stroke="#9a9a9a" stroke-width="0.35" fill="none" opacity="0.75"/>
<path d="M279.1 153.2H262.5V190H272.5M279.1 166.6H272.5V213.7H274.7M279.1 162.4H278.7V171.5H279.1M278.4 194.3H274.7V233.2H276.6M279.1 180.5H278.4V207.8H279.1M279.1 221.7H276.6V244.2H278M279.1 216.8H278.7V225.9H279.1M279.1 235.4H278V256.8H278.6M279.1 244H278.6V280.3H279.1" stroke="#2a2a2a" stroke-width="0.6" fill="none"/>
<text x="348.00" y="155.51" font-size="3.50" font-weight="bold" stroke="#000" stroke-width="0.12" textLength="36.4" lengthAdjust="spacingAndGlyphs">Luteolin 6-C-glucoside</text>
<text x="348.00" y="164.62" font-size="3.50" font-weight="bold" stroke="#000" stroke-width="0.12" textLength="54.0" lengthAdjust="spacingAndGlyphs">Cosmosiin; Apigenin 7-O-glucoside</text>
<text x="348.00" y="173.73" font-size="3.50" font-weight="bold" stroke="#000" stroke-width="0.12" textLength="14.6" lengthAdjust="spacingAndGlyphs">Eupafolin</text>
<text x="348.00" y="182.84" font-size="3.50" font-weight="bold" stroke="#000" stroke-width="0.12" textLength="76.4" lengthAdjust="spacingAndGlyphs">Flavone base + 3O, 2MeO, O-guaiacylglycerol-Hex</text>
<text x="348.00" y="191.95" font-size="3.50" font-weight="bold" stroke="#000" stroke-width="0.12" textLength="69.0" lengthAdjust="spacingAndGlyphs">Flavone base + 3O, 2MeO, O-guaiacylglycerol</text>
<text x="348.00" y="201.06" font-size="3.50" font-weight="bold" stroke="#000" stroke-width="0.12" textLength="50.6" lengthAdjust="spacingAndGlyphs">Flavone base + 3O, 1MeO, O-Hex</text>
<text x="348.00" y="210.17" font-size="3.50" font-weight="bold" stroke="#000" stroke-width="0.12" textLength="39.6" lengthAdjust="spacingAndGlyphs">Isorhamnetin-3-glucoside</text>
<text x="348.00" y="219.28" font-size="3.50" font-weight="bold" stroke="#000" stroke-width="0.12" textLength="13.6" lengthAdjust="spacingAndGlyphs">Apigenin</text>
<text x="348.00" y="228.39" font-size="3.50" font-weight="bold" stroke="#000" stroke-width="0.12" textLength="9.0" lengthAdjust="spacingAndGlyphs">Tricin</text>
<text x="348.00" y="237.50" font-size="3.50" font-weight="bold" stroke="#000" stroke-width="0.12" textLength="39.6" lengthAdjust="spacingAndGlyphs">Syringetin-3-O-glucoside</text>
<text x="348.00" y="246.61" font-size="3.50" font-weight="bold" stroke="#000" stroke-width="0.12" textLength="31.0" lengthAdjust="spacingAndGlyphs">Nepetin-7-glucoside</text>
<text x="348.00" y="255.72" font-size="3.50" font-weight="bold" stroke="#000" stroke-width="0.12" textLength="27.6" lengthAdjust="spacingAndGlyphs">Tricin 5-glucoside</text>
<text x="348.00" y="264.83" font-size="3.50" font-weight="bold" stroke="#000" stroke-width="0.12" textLength="60.6" lengthAdjust="spacingAndGlyphs">Anthocyanidin base + 4O, 2MeO, O-Hex</text>
<text x="348.00" y="273.94" font-size="3.50" font-weight="bold" stroke="#000" stroke-width="0.12" textLength="35.0" lengthAdjust="spacingAndGlyphs">Hispidulin 4'-glucoside</text>
<text x="348.00" y="283.05" font-size="3.50" font-weight="bold" stroke="#000" stroke-width="0.12" textLength="11.0" lengthAdjust="spacingAndGlyphs">Malvin</text>
<text x="290.42" y="290.50" font-size="3.40" font-weight="bold" stroke="#000" stroke-width="0.12" text-anchor="middle">CK</text>
<text x="313.05" y="290.50" font-size="3.40" font-weight="bold" stroke="#000" stroke-width="0.12" text-anchor="middle">Low</text>
<text x="335.68" y="290.50" font-size="3.40" font-weight="bold" stroke="#000" stroke-width="0.12" text-anchor="middle">High</text>
</g>
<g id="B_sug">
<text x="317.20" y="298.80" font-size="7.3" font-weight="bold" stroke="#000" stroke-width="0.3" text-anchor="middle" textLength="64.4" lengthAdjust="spacingAndGlyphs">Sugars &amp; Glycosides</text>
<rect x="280.00" y="302.70" width="23.38" height="14.04" fill="#5a94c8"/>
<rect x="303.33" y="302.70" width="23.38" height="14.04" fill="#c41428"/>
<rect x="326.67" y="302.70" width="23.38" height="14.04" fill="#d6edf5"/>
<rect x="280.00" y="316.69" width="23.38" height="14.04" fill="#cce8f2"/>
<rect x="303.33" y="316.69" width="23.38" height="14.04" fill="#c41428"/>
<rect x="326.67" y="316.69" width="23.38" height="14.04" fill="#5a98c8"/>
<rect x="280.00" y="330.68" width="23.38" height="14.04" fill="#cfe9f3"/>
<rect x="303.33" y="330.68" width="23.38" height="14.04" fill="#c41428"/>
<rect x="326.67" y="330.68" width="23.38" height="14.04" fill="#5593c6"/>
<rect x="280.00" y="344.67" width="23.38" height="14.04" fill="#b4062a"/>
<rect x="303.33" y="344.67" width="23.38" height="14.04" fill="#8fc1dd"/>
<rect x="326.67" y="344.67" width="23.38" height="14.04" fill="#abd6e8"/>
<rect x="280.00" y="358.66" width="23.38" height="14.04" fill="#fed383"/>
<rect x="303.33" y="358.66" width="23.38" height="14.04" fill="#3b52a8"/>
<rect x="326.67" y="358.66" width="23.38" height="14.04" fill="#e95b3c"/>
<rect x="280.00" y="372.65" width="23.38" height="14.04" fill="#fca55d"/>
<rect x="303.33" y="372.65" width="23.38" height="14.04" fill="#344099"/>
<rect x="326.67" y="372.65" width="23.38" height="14.04" fill="#f88e53"/>
<rect x="280.00" y="386.64" width="23.38" height="14.04" fill="#fa9656"/>
<rect x="303.33" y="386.64" width="23.38" height="14.04" fill="#323c97"/>
<rect x="326.67" y="386.64" width="23.38" height="14.04" fill="#fb9e59"/>
<path d="M280.00 316.69H350.00M280.00 330.68H350.00M280.00 344.67H350.00M280.00 358.66H350.00M280.00 372.65H350.00M280.00 386.64H350.00M303.33 302.70V400.63M326.67 302.70V400.63" stroke="#9a9a9a" stroke-width="0.35" fill="none" opacity="0.75"/>
<path d="M280 309.3H276.6V330H279.6M280 323.4H279.6V337.3H280M276.6 319.9H266.5V363.2H272.5M280 351H272.5V375.6H278M280 365.4H278V385.8H279.3M280 379.2H279.3V393.2H280" stroke="#2a2a2a" stroke-width="0.6" fill="none"/>
<text x="351.00" y="310.85" font-size="3.50" font-weight="bold" stroke="#000" stroke-width="0.12" textLength="56.0" lengthAdjust="spacingAndGlyphs">Kaempferol 3-O-beta-sophoroside</text>
<text x="351.00" y="324.84" font-size="3.50" font-weight="bold" stroke="#000" stroke-width="0.12" textLength="24.0" lengthAdjust="spacingAndGlyphs">Saikosaponin a</text>
<text x="351.00" y="338.83" font-size="3.50" font-weight="bold" stroke="#000" stroke-width="0.12" textLength="47.0" lengthAdjust="spacingAndGlyphs">Adenosine 5'-monophosphate</text>
<text x="351.00" y="352.82" font-size="3.50" font-weight="bold" stroke="#000" stroke-width="0.12" textLength="25.0" lengthAdjust="spacingAndGlyphs">maltol glucoside</text>
<text x="351.00" y="366.81" font-size="3.50" font-weight="bold" stroke="#000" stroke-width="0.12" textLength="45.4" lengthAdjust="spacingAndGlyphs">Pelargonidin-3-O-glucoside</text>
<text x="351.00" y="380.80" font-size="3.50" font-weight="bold" stroke="#000" stroke-width="0.12" textLength="9.0" lengthAdjust="spacingAndGlyphs">Oenin</text>
<text x="351.00" y="394.79" font-size="3.50" font-weight="bold" stroke="#000" stroke-width="0.12" textLength="39.5" lengthAdjust="spacingAndGlyphs">Peonidin-3-O-glucoside</text>
<text x="291.67" y="404.70" font-size="3.40" font-weight="bold" stroke="#000" stroke-width="0.12" text-anchor="middle">CK</text>
<text x="314.40" y="405.50" font-size="3.40" font-weight="bold" stroke="#000" stroke-width="0.12" text-anchor="middle">Low</text>
<text x="338.93" y="406.30" font-size="3.40" font-weight="bold" stroke="#000" stroke-width="0.12" text-anchor="middle">High</text>
</g>
<g id="B_lip">
<text x="447.20" y="20.00" font-size="7.3" font-weight="bold" stroke="#000" stroke-width="0.3" text-anchor="middle" textLength="19.6" lengthAdjust="spacingAndGlyphs">Lipids</text>
<rect x="411.10" y="24.60" width="23.62" height="8.78" fill="#fdbc6d"/>
<rect x="434.67" y="24.60" width="23.62" height="8.78" fill="#323c97"/>
<rect x="458.23" y="24.60" width="23.62" height="8.78" fill="#f47044"/>
<rect x="411.10" y="33.33" width="23.62" height="8.78" fill="#fdb466"/>
<rect x="434.67" y="33.33" width="23.62" height="8.78" fill="#313b96"/>
<rect x="458.23" y="33.33" width="23.62" height="8.78" fill="#f57748"/>
<rect x="411.10" y="42.06" width="23.62" height="8.78" fill="#fdb668"/>
<rect x="434.67" y="42.06" width="23.62" height="8.78" fill="#313b96"/>
<rect x="458.23" y="42.06" width="23.62" height="8.78" fill="#f57949"/>
<rect x="411.10" y="50.79" width="23.62" height="8.78" fill="#c81a29"/>
<rect x="434.67" y="50.79" width="23.62" height="8.78" fill="#5190c4"/>
<rect x="458.23" y="50.79" width="23.62" height="8.78" fill="#add7e9"/>
<rect x="411.10" y="59.52" width="23.62" height="8.78" fill="#c81a29"/>
<rect x="434.67" y="59.52" width="23.62" height="8.78" fill="#75add2"/>
<rect x="458.23" y="59.52" width="23.62" height="8.78" fill="#8dc0dc"/>
<rect x="411.10" y="68.25" width="23.62" height="8.78" fill="#c81a29"/>
<rect x="434.67" y="68.25" width="23.62" height="8.78" fill="#609ecb"/>
<rect x="458.23" y="68.25" width="23.62" height="8.78" fill="#96c6e0"/>
<rect x="411.10" y="76.98" width="23.62" height="8.78" fill="#d42d27"/>
<rect x="434.67" y="76.98" width="23.62" height="8.78" fill="#4060b0"/>
<rect x="458.23" y="76.98" width="23.62" height="8.78" fill="#f0f8d6"/>
<rect x="411.10" y="85.71" width="23.62" height="8.78" fill="#eb5d3d"/>
<rect x="434.67" y="85.71" width="23.62" height="8.78" fill="#333f9a"/>
<rect x="458.23" y="85.71" width="23.62" height="8.78" fill="#fee090"/>
<rect x="411.10" y="94.44" width="23.62" height="8.78" fill="#3f5eaf"/>
<rect x="434.67" y="94.44" width="23.62" height="8.78" fill="#d22b27"/>
<rect x="458.23" y="94.44" width="23.62" height="8.78" fill="#e9f5e0"/>
<rect x="411.10" y="103.17" width="23.62" height="8.78" fill="#4166b2"/>
<rect x="434.67" y="103.17" width="23.62" height="8.78" fill="#e2f3f3"/>
<rect x="458.23" y="103.17" width="23.62" height="8.78" fill="#c81e2a"/>
<path d="M411.10 33.33H481.80M411.10 42.06H481.80M411.10 50.79H481.80M411.10 59.52H481.80M411.10 68.25H481.80M411.10 76.98H481.80M411.10 85.71H481.80M411.10 94.44H481.80M411.10 103.17H481.80M434.67 24.60V111.90M458.23 24.60V111.90" stroke="#9a9a9a" stroke-width="0.35" fill="none" opacity="0.75"/>
<path d="M411.1 29H410V46.5H411.1M411.1 37.7H410M410 35.7H405V73.2H407.7M405 54.5H400.7V103H404.7M409.7 61.4H407.7V84.8H409.7M411.1 55.2H409.7V72.7H411.1M411.1 64H409.7M411.1 81.5H409.7V90.2H411.1M411.1 99H404.7V107.7H411.1" stroke="#2a2a2a" stroke-width="0.6" fill="none"/>
<text x="482.90" y="30.66" font-size="3.00" font-weight="bold" stroke="#000" stroke-width="0.12" textLength="39.3" lengthAdjust="spacingAndGlyphs">13-Hydroxyoctadecanoic acid</text>
<text x="482.90" y="39.39" font-size="3.00" font-weight="bold" stroke="#000" stroke-width="0.12" textLength="9.0" lengthAdjust="spacingAndGlyphs">PI 34:2</text>
<text x="482.90" y="48.12" font-size="3.00" font-weight="bold" stroke="#000" stroke-width="0.12" textLength="9.0" lengthAdjust="spacingAndGlyphs">PI 36:4</text>
<text x="482.90" y="56.85" font-size="3.00" font-weight="bold" stroke="#000" stroke-width="0.12" textLength="12.2" lengthAdjust="spacingAndGlyphs">LPC 18:2</text>
<text x="482.90" y="65.58" font-size="3.00" font-weight="bold" stroke="#000" stroke-width="0.12" textLength="20.0" lengthAdjust="spacingAndGlyphs">Phosphocholine</text>
<text x="482.90" y="74.31" font-size="3.00" font-weight="bold" stroke="#000" stroke-width="0.12" textLength="12.2" lengthAdjust="spacingAndGlyphs">LPC 18:1</text>
<text x="482.90" y="83.03" font-size="3.00" font-weight="bold" stroke="#000" stroke-width="0.12" textLength="12.2" lengthAdjust="spacingAndGlyphs">LPE 18:2</text>
<text x="482.90" y="91.77" font-size="3.00" font-weight="bold" stroke="#000" stroke-width="0.12" textLength="9.0" lengthAdjust="spacingAndGlyphs">PI 36:1</text>
<text x="482.90" y="100.50" font-size="3.00" font-weight="bold" stroke="#000" stroke-width="0.12" textLength="28.8" lengthAdjust="spacingAndGlyphs">9E, 11E-Linoleic acid</text>
<text x="482.90" y="109.22" font-size="3.00" font-weight="bold" stroke="#000" stroke-width="0.12" textLength="18.2" lengthAdjust="spacingAndGlyphs">Linolenic acid</text>
<text x="423.18" y="116.00" font-size="3.00" font-weight="bold" stroke="#000" stroke-width="0.12" text-anchor="middle">CK</text>
<text x="446.65" y="116.00" font-size="3.00" font-weight="bold" stroke="#000" stroke-width="0.12" text-anchor="middle">Low</text>
<text x="470.62" y="116.00" font-size="3.00" font-weight="bold" stroke="#000" stroke-width="0.12" text-anchor="middle">High</text>
</g>
<rect x="528.2" y="12.9" width="5.3" height="73.8" fill="url(#cb)"/>
<text x="535.2" y="20.75" font-size="5.2" font-weight="bold" stroke="#000" stroke-width="0.12">1</text>
<text x="535.2" y="36.85" font-size="5.2" font-weight="bold" stroke="#000" stroke-width="0.12">0.5</text>
<text x="535.2" y="53.05" font-size="5.2" font-weight="bold" stroke="#000" stroke-width="0.12">0</text>
<text x="534.3" y="69.15" font-size="5.2" font-weight="bold" stroke="#000" stroke-width="0.12">−0.5</text>
<text x="534.3" y="85.25" font-size="5.2" font-weight="bold" stroke="#000" stroke-width="0.12">−1</text>
</svg>
</body></html>
